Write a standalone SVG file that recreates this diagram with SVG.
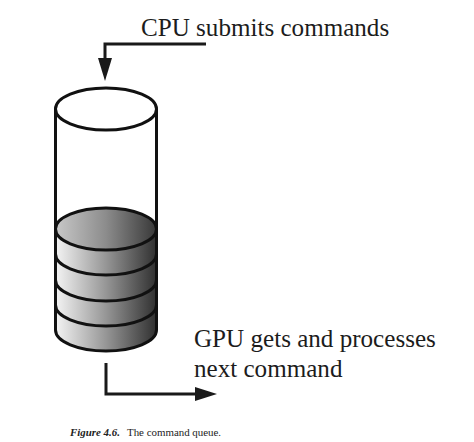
<svg xmlns="http://www.w3.org/2000/svg" width="474" height="442" viewBox="0 0 474 442">
  <style>
    .edge { fill: none; stroke: #1a1a1a; stroke-width: 3; }
    .rim { fill: none; stroke: #111; stroke-width: 3; }
    .head { fill: #1a1a1a; }
    .label { font-family: "Liberation Serif", "Times New Roman", serif; font-size: 25.1px; fill: #1c1c1c; }
    .cap { font-family: "Liberation Serif", "Times New Roman", serif; font-size: 10.9px; fill: #222; }
  </style>
  <defs>
    <linearGradient id="discShade" x1="0" y1="0" x2="1" y2="0">
      <stop offset="0" stop-color="#f4f4f4"/>
      <stop offset="0.5" stop-color="#969696"/>
      <stop offset="1" stop-color="#303030"/>
    </linearGradient>
    <linearGradient id="topShade" x1="0" y1="0" x2="1" y2="0">
      <stop offset="0" stop-color="#c8c8c8"/>
      <stop offset="0.5" stop-color="#8c8c8c"/>
      <stop offset="1" stop-color="#383838"/>
    </linearGradient>
  </defs>
  <rect width="474" height="442" fill="#fff"/>

  <g id="queue">
    <!-- body of the stacked commands -->
    <path d="M55.500 229 V330 A50.500 21 0 0 0 156.500 330 V229 Z" fill="url(#discShade)"/>
    <!-- tube walls and open top -->
    <path class="rim" d="M55.500 109 V330 A50.500 21 0 0 0 156.500 330 V109"/>
    <ellipse class="rim" cx="106" cy="109" rx="50.500" ry="21"/>
    <!-- disc separators -->
    <path class="rim" d="M55.500 254 A50.500 21 0 0 0 156.500 254"/>
    <path class="rim" d="M55.500 280 A50.500 21 0 0 0 156.500 280"/>
    <path class="rim" d="M55.500 305 A50.500 21 0 0 0 156.500 305"/>
    <!-- top disc -->
    <ellipse cx="106" cy="229" rx="50.500" ry="21" fill="url(#topShade)" stroke="#111" stroke-width="3"/>
  </g>

  <g id="connectors">
    <path class="edge" d="M206 44 H105 V60"/>
    <polygon class="head" points="98,58 112,58 105,81"/>
    <path class="edge" d="M106 363 V394 H197"/>
    <polygon class="head" points="195,387 217,394 195,401"/>
  </g>

  <g id="cpu-label">
    <text class="label" x="141" y="36">CPU submits commands</text>
  </g>
  <g id="gpu-label">
    <text class="label" x="194" y="347">GPU gets and processes</text>
    <text class="label" x="194" y="377">next command</text>
  </g>
  <g id="caption">
    <text class="cap" x="70" y="436"><tspan font-weight="bold" font-style="italic">Figure 4.6.</tspan><tspan x="127">The command queue.</tspan></text>
  </g>
</svg>
